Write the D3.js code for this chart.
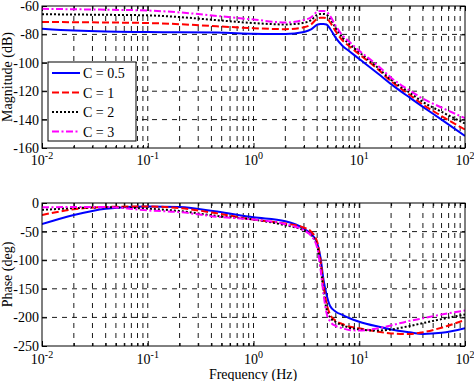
<!DOCTYPE html>
<html><head><meta charset="utf-8">
<script src="https://cdn.jsdelivr.net/npm/d3@7"></script>
<style>body{margin:0;background:#fff}svg{display:block}text{font-family:"Liberation Serif","Times New Roman",serif;fill:#000}</style>
</head><body><svg id="c" width="474" height="381"></svg>
<script>
const freq = [0.01,0.02,0.04,0.1,0.2,0.45,1,2,3,3.5,4,4.3,4.6,4.9,5.3,6,7,8,10,15,20,30,40,60,100];
const seriesNames = ["C = 0.5","C = 1","C = 2","C = 3"];
const magC05 = [-76,-77.3,-78,-78.3,-78.5,-78.7,-79.5,-79.8,-78.3,-76.5,-73.2,-72.7,-72.7,-73,-76,-82.5,-88.3,-91.7,-97.3,-107.5,-115,-124.5,-131,-140,-151.5];
const magC1  = [-71.2,-71.4,-71.6,-72,-72.8,-74.3,-75.6,-76.3,-75,-73,-69,-68.3,-68.2,-68.6,-71.5,-78,-84.5,-88.2,-94,-104.5,-113,-122.5,-129.5,-137.5,-147];
const magC2  = [-65.8,-66,-66.2,-66.6,-67.8,-70,-72,-73,-71.8,-70,-66.2,-65.6,-65.6,-66,-69,-75.5,-82.5,-86.5,-92.6,-103.5,-112,-121,-127.6,-134.5,-142.8];
const magC3  = [-62,-62.3,-62.6,-63.2,-64.5,-67,-69.5,-71.6,-69.8,-68,-64,-63.5,-63.5,-64,-67,-74,-81,-85,-91.5,-102,-110.5,-119.5,-125.3,-131.5,-139];
const phC05 = [-37,-21,-10,-6,-7,-15,-25,-32,-45,-54,-70,-95,-135,-160,-180,-190,-196,-201,-207.5,-216,-221,-226,-229,-227,-219];
const phC1  = [-21,-11,-7,-6,-9,-18,-29,-36,-43,-50,-68,-100,-145,-175,-195,-206,-212,-216,-219,-225,-228,-229,-226,-218,-204.5];
const phC2  = [-12,-9,-7.5,-10,-14,-22.7,-29,-39,-48,-56,-75,-110,-155,-185,-200,-208,-214,-218,-221,-223,-221,-215,-210,-203,-195];
const phC3  = [-7.6,-7,-7,-13,-16,-24,-29,-37,-48,-57,-78,-115,-160,-192,-207,-215,-219,-222,-223,-219,-214,-206,-201.5,-195,-188];
const magTicks = [-60,-80,-100,-120,-140,-160];
const phTicks = [0,-50,-100,-150,-200,-250];
const xMajor = [0.01,0.1,1,10,100];
const xExp = ["-2","-1","0","1","2"];

const styles = [
  {color:"#0000ff", dash:null},
  {color:"#ff0000", dash:"7,3"},
  {color:"#000000", dash:"2,2"},
  {color:"#ff00ff", dash:"7,2.5,2,2.5"}
];
const svg = d3.select("#c");
const L = 42, R = 465;
const x = d3.scaleLog().domain([0.01,100]).range([L,R]);
const xMinor = [];
for (let d = -2; d < 2; d++) for (let k = 1; k <= 9; k++) xMinor.push(k*Math.pow(10,d));
xMinor.push(100);

function panel(top, bottom, domain, yticks, data, ylabel, xlabelY) {
  const y = d3.scaleLinear().domain(domain).range([bottom, top]);
  const g = svg.append("g");
  const cid = "clip"+top;
  svg.append("clipPath").attr("id",cid).append("rect").attr("x",L).attr("y",top).attr("width",R-L).attr("height",bottom-top);
  g.selectAll(".vg").data(xMinor.filter(v=>v>0.01&&v<100)).enter().append("line")
    .attr("x1",d=>x(d)).attr("x2",d=>x(d)).attr("y1",top).attr("y2",bottom)
    .attr("stroke","#000").attr("stroke-width",0.9).attr("stroke-dasharray","5,5");
  g.selectAll(".hg").data(yticks.slice(1,-1)).enter().append("line")
    .attr("x1",L).attr("x2",R).attr("y1",d=>y(d)).attr("y2",d=>y(d))
    .attr("stroke","#000").attr("stroke-width",0.9).attr("stroke-dasharray","5,5");
  const xb = d3.axisBottom(x).tickValues(xMinor).tickSize(-3).tickFormat("");
  const xt = d3.axisTop(x).tickValues(xMinor).tickSize(-3).tickFormat("");
  const yl = d3.axisLeft(y).tickValues(yticks).tickSize(-5).tickPadding(3).tickFormat(d3.format("d"));
  const yr = d3.axisRight(y).tickValues(yticks).tickSize(-5).tickFormat("");
  const ab = g.append("g").attr("transform",`translate(0,${bottom})`).call(xb);
  const at = g.append("g").attr("transform",`translate(0,${top})`).call(xt);
  const al = g.append("g").attr("transform",`translate(${L},0)`).call(yl);
  const ar = g.append("g").attr("transform",`translate(${R},0)`).call(yr);
  [ab,at].forEach(a=>a.selectAll(".tick line").attr("y2",(d)=> (xMajor.includes(d)? (a===ab?-5:5) : (a===ab?-3:3))));
  [ab,at,al,ar].forEach(a=>{a.select(".domain").remove();a.selectAll(".tick line").attr("stroke","#000");});
  al.selectAll(".tick text").attr("font-size",14).attr("font-family","Liberation Serif").text(d=>d3.format("d")(d).replace("−","-"));
  const line = d3.line().x((d,i)=>x(freq[i])).y(d=>y(d)).curve(d3.curveMonotoneX);
  data.forEach((s,i)=>{
    g.append("path").datum(s).attr("d",line).attr("fill","none")
     .attr("stroke",styles[i].color).attr("stroke-width",2)
     .attr("stroke-dasharray",styles[i].dash).attr("clip-path",`url(#${cid})`);
  });
  g.append("rect").attr("x",L).attr("y",top).attr("width",R-L).attr("height",bottom-top)
    .attr("fill","none").attr("stroke","#000").attr("stroke-width",1);
  xMajor.forEach((v,i)=>{
    const t = g.append("text").attr("x",x(v)).attr("y",xlabelY).attr("text-anchor","middle").attr("font-size",14);
    t.append("tspan").text("10");
    t.append("tspan").attr("dy",-6).attr("font-size",10).text(xExp[i]);
  });
  g.append("text").attr("transform",`translate(12,${(top+bottom)/2}) rotate(-90)`)
    .attr("text-anchor","middle").attr("font-size",14).text(ylabel);
  return y;
}

panel(6,148,[-160,-60],magTicks,[magC05,magC1,magC2,magC3],"Magnitude (dB)",165);
panel(203,346,[-250,0],phTicks,[phC05,phC1,phC2,phC3],"Phase (deg)",364);
svg.append("text").attr("x",253).attr("y",379).attr("text-anchor","middle").attr("font-size",14).text("Frequency (Hz)");

const lg = svg.append("g");
lg.append("rect").attr("x",48).attr("y",62).attr("width",88).attr("height",79).attr("fill","#fff").attr("stroke","#000").attr("stroke-width",1);
seriesNames.forEach((n,i)=>{
  const yy = 73 + i*19.5;
  lg.append("line").attr("x1",52).attr("x2",80).attr("y1",yy).attr("y2",yy)
    .attr("stroke",styles[i].color).attr("stroke-width",2).attr("stroke-dasharray",styles[i].dash);
  lg.append("text").attr("x",83).attr("y",yy+5).attr("font-size",14).text(n);
});
</script></body></html>
